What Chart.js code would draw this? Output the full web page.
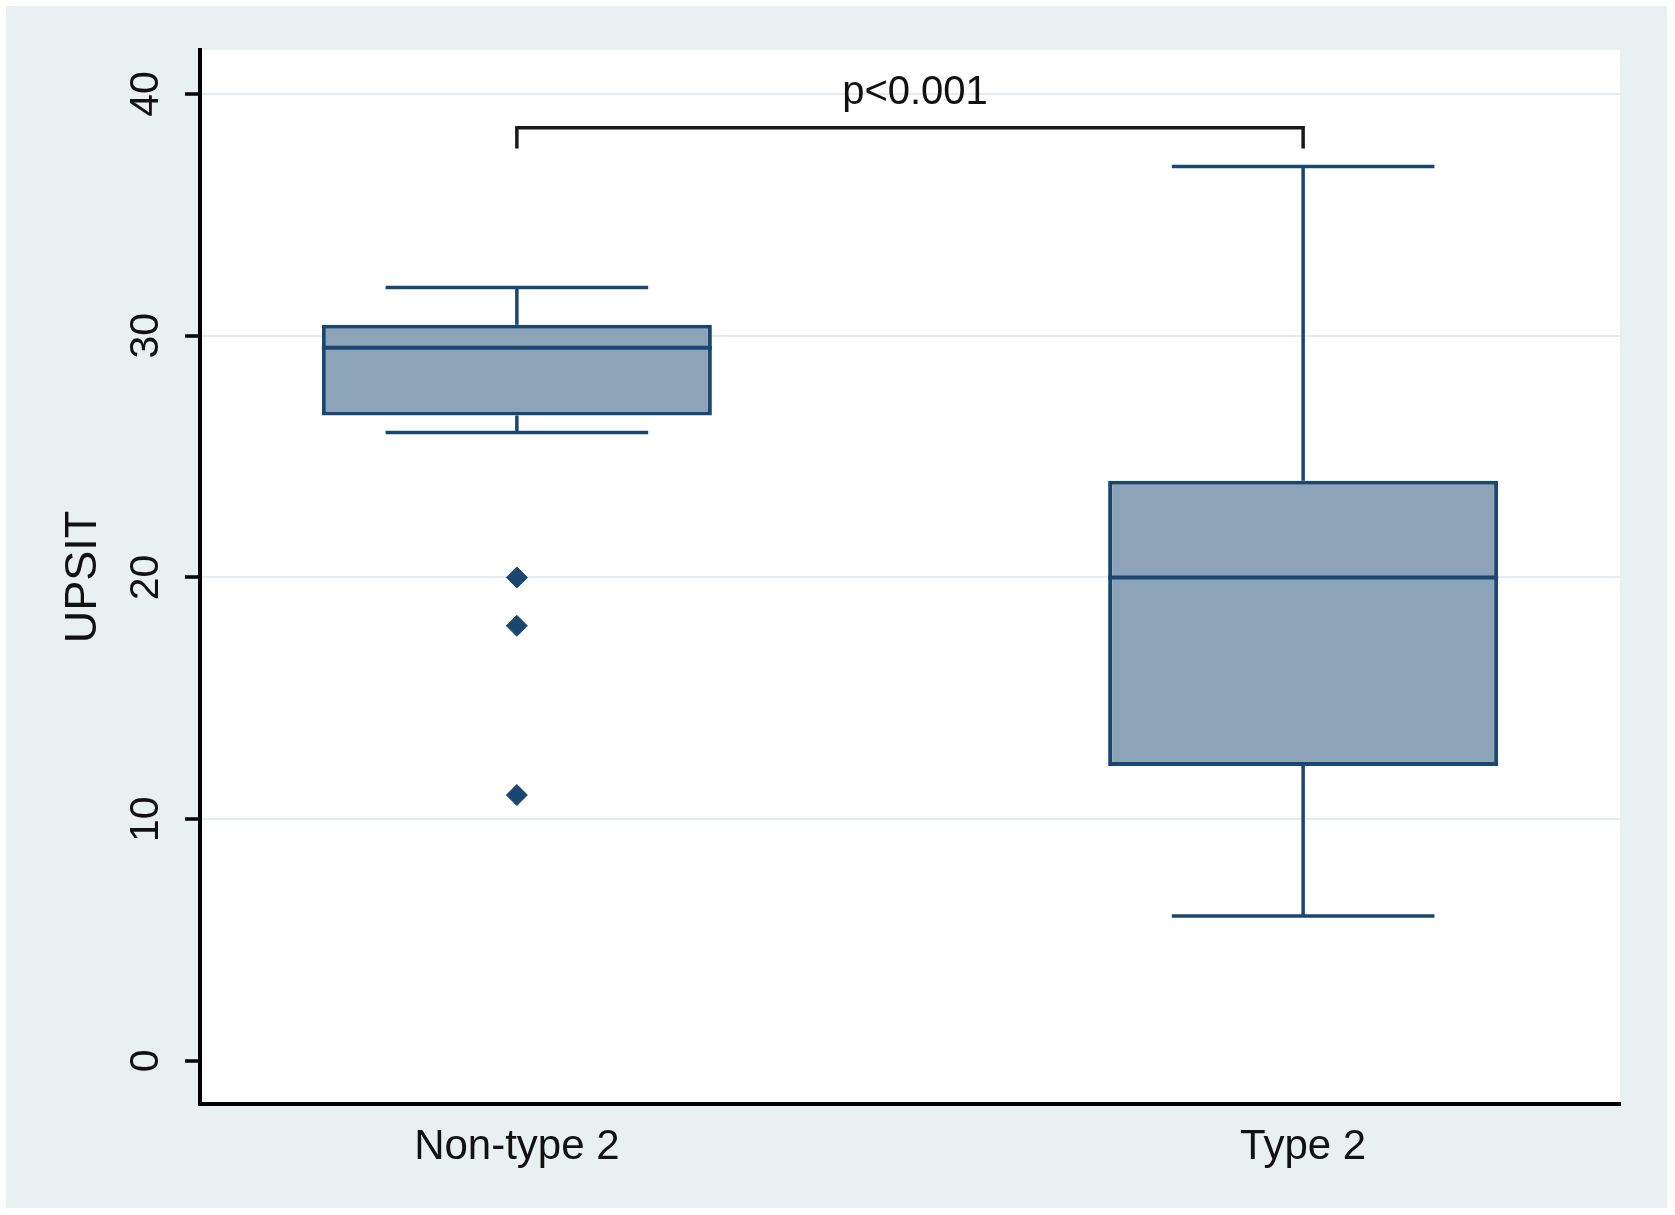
<!DOCTYPE html>
<html>
<head>
<meta charset="utf-8">
<title>UPSIT box plot</title>
<script src="https://cdn.jsdelivr.net/npm/chart.js@4.4.0/dist/chart.umd.min.js"></script>
<style>
  html, body { margin: 0; padding: 0; background: #fff; }
  #wrap { width: 1675px; height: 1215px; position: relative; }
</style>
</head>
<body>
<div id="wrap"><canvas id="grafico"></canvas></div>
<script>
// valores
const categorias = ['Non-type 2', 'Type 2'];
const bigodeMin = [26, 6];
const q1 = [26.7, 12.2];
const mediana = [29.5, 20];
const q3 = [30.45, 24];
const bigodeMax = [32, 37];
const outlierGrupo = [0, 0, 0];
const outlierValor = [20, 18, 11];
const yTicks = [0, 10, 20, 30, 40];
const pTexto = 'p<0.001';
const colcheteY = 38.6;     // traço horizontal
const colchetePonta = 37.75; // fim das pontas
const pTextoY = 39.6;

// estilo
const fonte = '"Liberation Sans", Arial, sans-serif';
const azul = '#1A476F';
const caixa = '#8DA3B8';
const fundo = '#E9F0F2';
const grade = '#E4ECEF';

const desenhoExtra = {
  id: 'desenhoExtra',
  beforeDraw(chart) {
    const { ctx, chartArea: a } = chart;
    ctx.save();
    ctx.fillStyle = '#fff';
    ctx.fillRect(0, 0, chart.width, chart.height);
    ctx.fillStyle = fundo;
    ctx.fillRect(6, 6, chart.width - 14, chart.height - 13);
    ctx.fillStyle = '#fff';
    ctx.fillRect(a.left, a.top, a.right - a.left, a.bottom - a.top);
    ctx.restore();
  },
  beforeDatasetsDraw(chart) {
    // bigodes por baixo das caixas
    const { ctx, scales: { x, y } } = chart;
    ctx.save();
    ctx.strokeStyle = azul;
    ctx.lineWidth = 3.5;
    categorias.forEach((c, i) => {
      const cx = x.getPixelForValue(i);
      const meia = x.getPixelForValue(i + 0.167) - cx;
      const yMax = y.getPixelForValue(bigodeMax[i]);
      const yMin = y.getPixelForValue(bigodeMin[i]);
      ctx.beginPath();
      ctx.moveTo(cx, y.getPixelForValue(q3[i]));
      ctx.lineTo(cx, yMax);
      ctx.moveTo(cx, y.getPixelForValue(q1[i]));
      ctx.lineTo(cx, yMin);
      ctx.moveTo(cx - meia, yMax);
      ctx.lineTo(cx + meia, yMax);
      ctx.moveTo(cx - meia, yMin);
      ctx.lineTo(cx + meia, yMin);
      ctx.stroke();
    });
    ctx.restore();
  },
  afterDatasetsDraw(chart) {
    const { ctx, scales: { x, y } } = chart;
    const barras = chart.getDatasetMeta(0).data;
    ctx.save();
    // medianas
    ctx.strokeStyle = azul;
    ctx.lineWidth = 4;
    barras.forEach((b, i) => {
      const ym = y.getPixelForValue(mediana[i]);
      ctx.beginPath();
      ctx.moveTo(b.x - b.width / 2, ym);
      ctx.lineTo(b.x + b.width / 2, ym);
      ctx.stroke();
    });
    // colchete do p-valor
    const x0 = x.getPixelForValue(0);
    const x1 = x.getPixelForValue(1);
    const yc = y.getPixelForValue(colcheteY);
    const yp = y.getPixelForValue(colchetePonta);
    ctx.strokeStyle = '#1a1a1a';
    ctx.lineWidth = 3.5;
    ctx.beginPath();
    ctx.moveTo(x0, yp);
    ctx.lineTo(x0, yc);
    ctx.lineTo(x1, yc);
    ctx.lineTo(x1, yp);
    ctx.stroke();
    ctx.fillStyle = '#111';
    ctx.font = '40px ' + fonte;
    ctx.textAlign = 'center';
    ctx.textBaseline = 'alphabetic';
    ctx.fillText(pTexto, x.getPixelForValue(0.5) + 5, y.getPixelForValue(pTextoY));
    ctx.restore();
  },
  afterDraw(chart) {
    // rótulos do eixo y girados
    const { ctx, scales: { y } } = chart;
    ctx.save();
    ctx.fillStyle = '#111';
    ctx.font = '41px ' + fonte;
    ctx.textAlign = 'center';
    ctx.textBaseline = 'middle';
    yTicks.forEach(v => {
      ctx.save();
      ctx.translate(147, y.getPixelForValue(v));
      ctx.rotate(-Math.PI / 2);
      ctx.fillText(String(v), 0, 0);
      ctx.restore();
    });
    ctx.restore();
  }
};

new Chart(document.getElementById('grafico'), {
  type: 'bar',
  data: {
    datasets: [
      {
        label: 'IQR',
        data: categorias.map((c, i) => ({ x: i, y: [q1[i], q3[i]] })),
        backgroundColor: caixa,
        borderColor: azul,
        borderWidth: 4,
        borderSkipped: false,
        categoryPercentage: 1,
        barPercentage: 0.496
      },
      {
        type: 'scatter',
        label: 'outliers',
        data: outlierValor.map((v, i) => ({ x: outlierGrupo[i], y: v })),
        pointStyle: 'rectRot',
        pointRadius: 10.5,
        backgroundColor: azul,
        borderColor: azul,
        borderWidth: 1
      }
    ]
  },
  options: {
    responsive: true,
    maintainAspectRatio: false,
    devicePixelRatio: 1,
    animation: false,
    layout: { padding: { left: 0, top: 50, right: 55, bottom: 0 } },
    plugins: {
      legend: { display: false },
      tooltip: { enabled: false }
    },
    scales: {
      x: {
        type: 'linear',
        min: -0.403,
        max: 1.403,
        offset: false,
        afterBuildTicks: s => { s.ticks = categorias.map((c, i) => ({ value: i })); },
        afterFit: s => { s.height = 111; },
        grid: { display: false, drawTicks: false, offset: false },
        border: { display: true, color: '#000', width: 4 },
        ticks: {
          callback: v => categorias[v],
          color: '#111',
          font: { family: fonte, size: 42 },
          padding: 18,
          maxRotation: 0,
          autoSkip: false
        }
      },
      y: {
        type: 'linear',
        min: -1.78,
        max: 41.82,
        afterBuildTicks: s => { s.ticks = yTicks.map(v => ({ value: v })); },
        afterFit: s => { s.width = 200; },
        grid: {
          color: c => (c.tick && c.tick.value === 0 ? 'rgba(0,0,0,0)' : grade),
          lineWidth: 2,
          drawTicks: true,
          tickLength: 15,
          tickWidth: 3.5,
          tickColor: '#000'
        },
        border: { display: true, color: '#000', width: 4 },
        ticks: { display: false },
        title: {
          display: true,
          text: 'UPSIT',
          color: '#111',
          font: { family: fonte, size: 45 },
          padding: { top: 57, bottom: 0 }
        }
      }
    }
  },
  plugins: [desenhoExtra]
});
</script>
</body>
</html>
